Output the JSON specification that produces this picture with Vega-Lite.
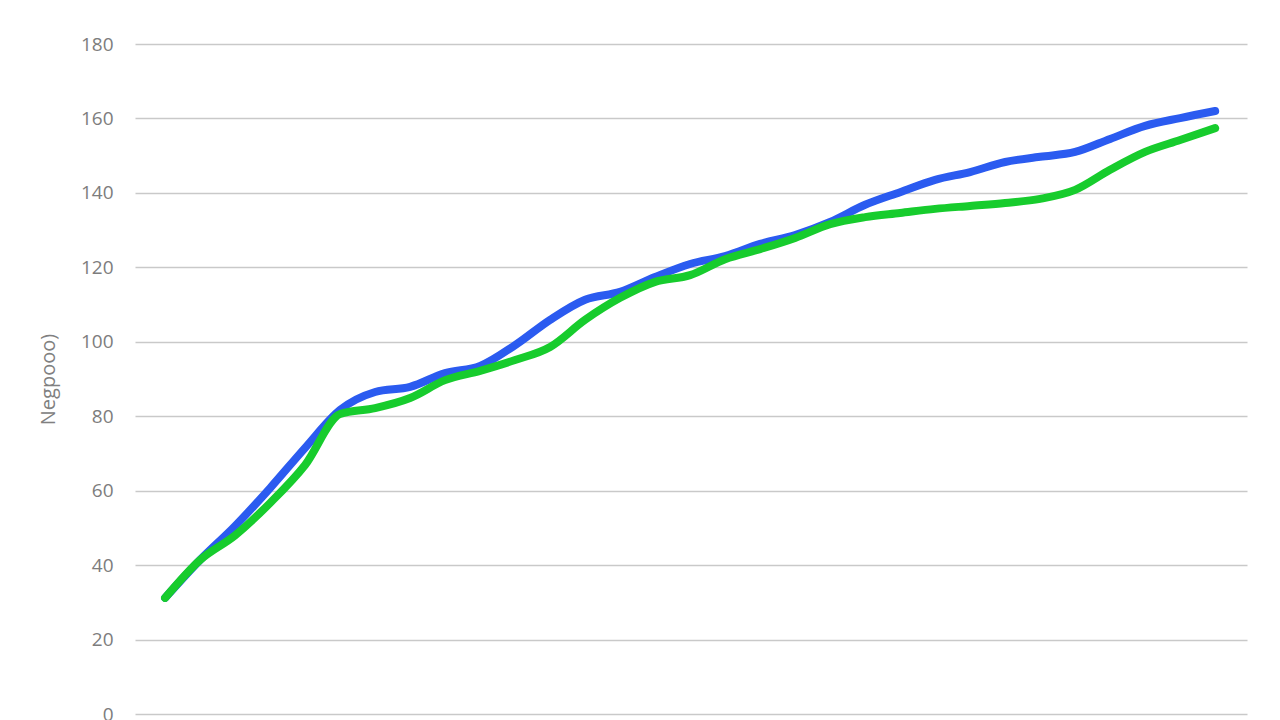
{
  "$schema": "https://vega.github.io/schema/vega-lite/v6.json",
  "width": 1112,
  "height": 670,
  "autosize": "none",
  "padding": {"left": 135, "top": 44, "right": 33, "bottom": 6},
  "background": "white",
  "data": {
    "values": [
      {"t": 0, "s": "A", "v": 31.2}, {"t": 1, "s": "A", "v": 41.4}, {"t": 2, "s": "A", "v": 50.5},
      {"t": 3, "s": "A", "v": 60.7}, {"t": 4, "s": "A", "v": 71.5}, {"t": 5, "s": "A", "v": 81.7},
      {"t": 6, "s": "A", "v": 86.5}, {"t": 7, "s": "A", "v": 87.9}, {"t": 8, "s": "A", "v": 91.6},
      {"t": 9, "s": "A", "v": 93.5}, {"t": 10, "s": "A", "v": 99.1}, {"t": 11, "s": "A", "v": 105.9},
      {"t": 12, "s": "A", "v": 111.3}, {"t": 13, "s": "A", "v": 113.4}, {"t": 14, "s": "A", "v": 117.4},
      {"t": 15, "s": "A", "v": 120.9}, {"t": 16, "s": "A", "v": 123.0}, {"t": 17, "s": "A", "v": 126.3},
      {"t": 18, "s": "A", "v": 128.7}, {"t": 19, "s": "A", "v": 132.2}, {"t": 20, "s": "A", "v": 136.8},
      {"t": 21, "s": "A", "v": 140.2}, {"t": 22, "s": "A", "v": 143.5}, {"t": 23, "s": "A", "v": 145.6},
      {"t": 24, "s": "A", "v": 148.3}, {"t": 25, "s": "A", "v": 149.7}, {"t": 26, "s": "A", "v": 151.0},
      {"t": 27, "s": "A", "v": 154.5}, {"t": 28, "s": "A", "v": 158.0}, {"t": 29, "s": "A", "v": 160.1},
      {"t": 30, "s": "A", "v": 162.0},
      {"t": 0, "s": "B", "v": 31.2}, {"t": 1, "s": "B", "v": 41.4}, {"t": 2, "s": "B", "v": 48.0},
      {"t": 3, "s": "B", "v": 56.7}, {"t": 4, "s": "B", "v": 66.9}, {"t": 5, "s": "B", "v": 80.6},
      {"t": 6, "s": "B", "v": 82.2}, {"t": 7, "s": "B", "v": 84.9}, {"t": 8, "s": "B", "v": 89.7},
      {"t": 9, "s": "B", "v": 92.2}, {"t": 10, "s": "B", "v": 95.1}, {"t": 11, "s": "B", "v": 98.6},
      {"t": 12, "s": "B", "v": 105.9}, {"t": 13, "s": "B", "v": 111.8}, {"t": 14, "s": "B", "v": 116.1},
      {"t": 15, "s": "B", "v": 117.9}, {"t": 16, "s": "B", "v": 122.2}, {"t": 17, "s": "B", "v": 124.9},
      {"t": 18, "s": "B", "v": 127.9}, {"t": 19, "s": "B", "v": 131.6}, {"t": 20, "s": "B", "v": 133.5},
      {"t": 21, "s": "B", "v": 134.6}, {"t": 22, "s": "B", "v": 135.7}, {"t": 23, "s": "B", "v": 136.5},
      {"t": 24, "s": "B", "v": 137.3}, {"t": 25, "s": "B", "v": 138.4}, {"t": 26, "s": "B", "v": 140.8},
      {"t": 27, "s": "B", "v": 146.2}, {"t": 28, "s": "B", "v": 151.0}, {"t": 29, "s": "B", "v": 154.2},
      {"t": 30, "s": "B", "v": 157.4}
    ]
  },
  "mark": {"type": "line", "strokeWidth": 8, "strokeCap": "round", "strokeJoin": "round", "interpolate": "monotone"},
  "encoding": {
    "x": {
      "field": "t",
      "type": "quantitative",
      "scale": {"domain": [-0.86, 30.91], "nice": false, "zero": false},
      "axis": null
    },
    "y": {
      "field": "v",
      "type": "quantitative",
      "scale": {"domain": [0, 180], "nice": false},
      "axis": {
        "title": "Negpooo)",
        "values": [0, 20, 40, 60, 80, 100, 120, 140, 160, 180],
        "domain": false,
        "ticks": false,
        "labelPadding": 22,
        "labelFont": "Open Sans",
        "labelFontSize": 19,
        "labelColor": "#7d7d7d",
        "titleFont": "Open Sans",
        "titleFontSize": 20,
        "titleFontWeight": "normal",
        "titleColor": "#808080",
        "titlePadding": 22,
        "gridColor": "#c9c9c9",
        "gridWidth": 1.6
      }
    },
    "color": {
      "field": "s",
      "type": "nominal",
      "scale": {"domain": ["A", "B"], "range": ["#2b5bf0", "#17cc2d"]},
      "legend": null
    }
  },
  "config": {"view": {"stroke": null}}
}
